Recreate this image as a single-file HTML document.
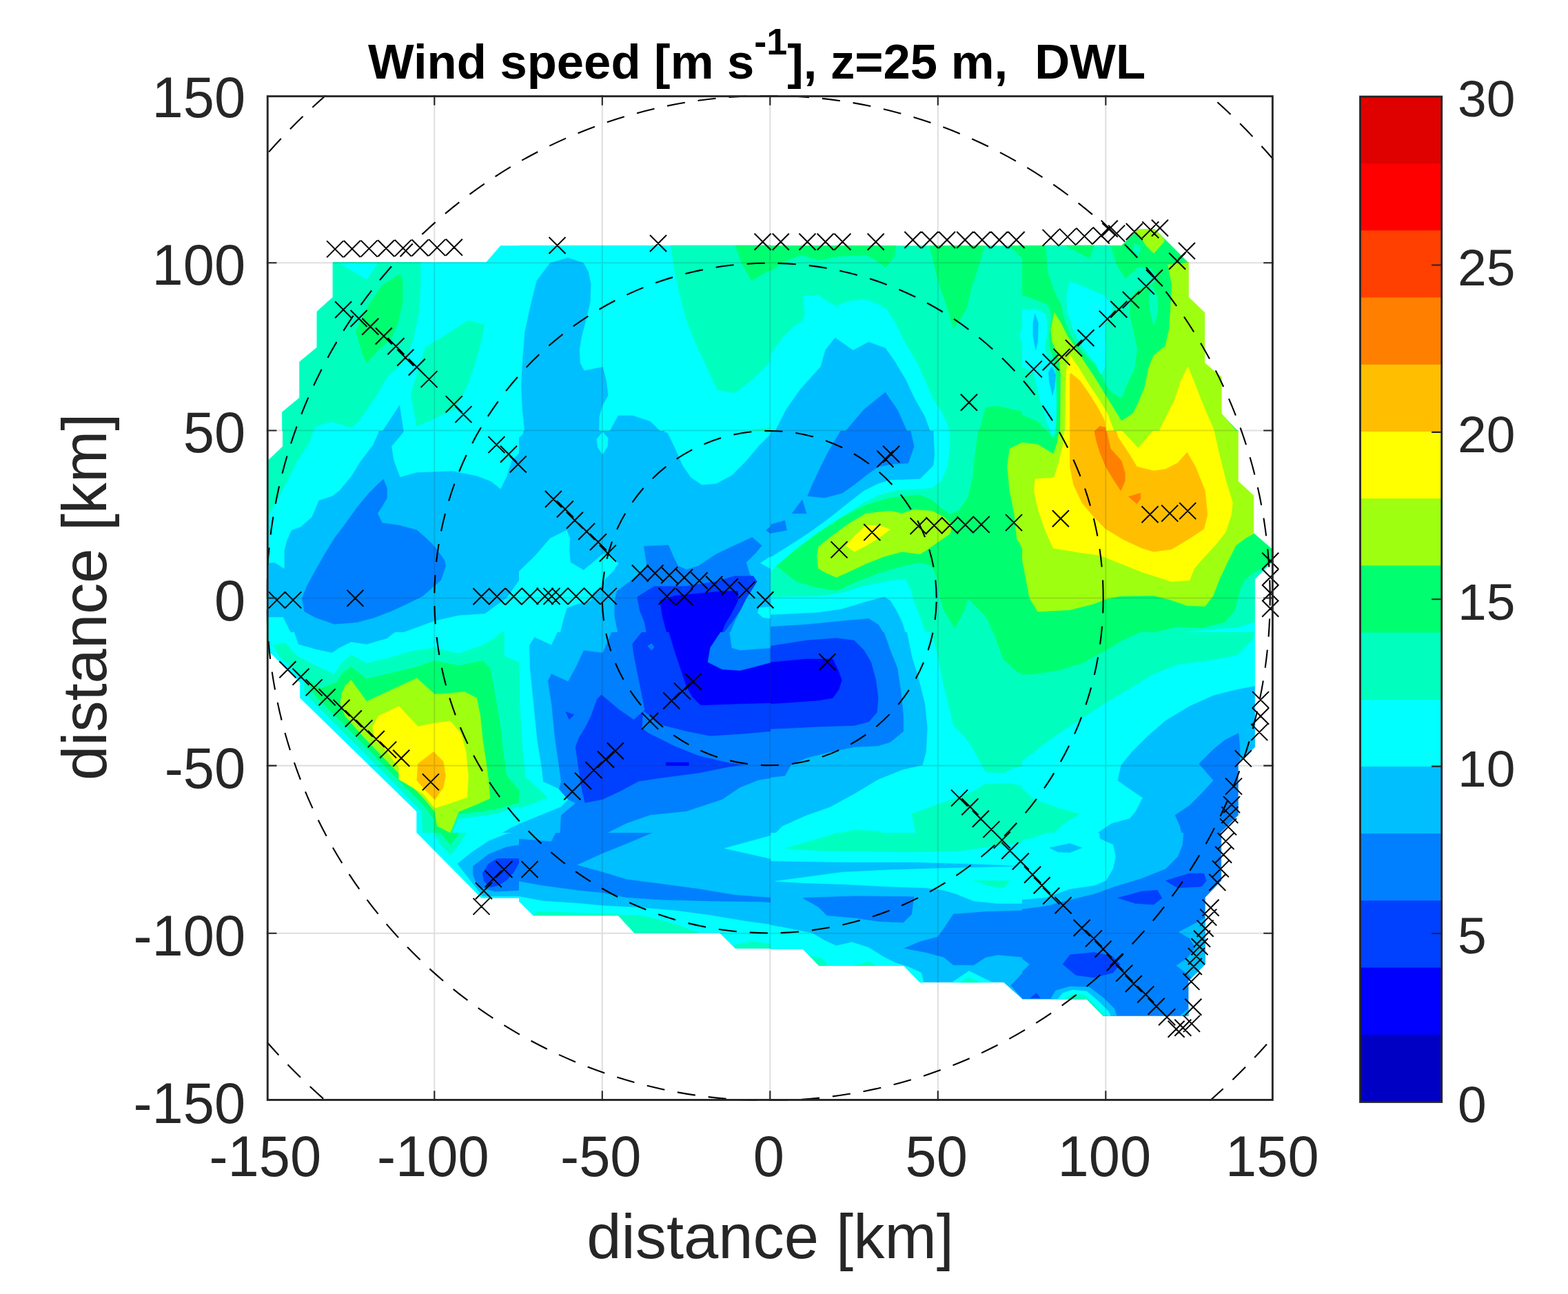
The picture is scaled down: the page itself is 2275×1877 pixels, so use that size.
<!DOCTYPE html>
<html lang="en"><head><meta charset="utf-8"><title>Wind speed</title>
<style>html,body{margin:0;padding:0;background:#fff}svg{display:block}text{font-family:"Liberation Sans",Arial,Helvetica,sans-serif}</style></head>
<body>
<svg xmlns="http://www.w3.org/2000/svg" width="2275" height="1877" viewBox="0 0 2275 1877">
<rect width="2275" height="1877" fill="#fff"/>
<defs><clipPath id="ax"><rect x="386.8" y="138.2" width="1461.0" height="1458.7"/></clipPath></defs>
<g clip-path="url(#ax)" shape-rendering="geometricPrecision">
<defs><clipPath id="c1"><rect x="388.0" y="334.0" width="365.0" height="291.0"/></clipPath><clipPath id="c2"><rect x="388.0" y="625.0" width="365.0" height="292.0"/></clipPath><clipPath id="c3"><rect x="388.0" y="917.0" width="365.0" height="291.0"/></clipPath><clipPath id="c4"><rect x="388.0" y="1208.0" width="365.0" height="291.0"/></clipPath><clipPath id="c5"><rect x="753.0" y="334.0" width="365.0" height="291.0"/></clipPath><clipPath id="c6"><rect x="753.0" y="625.0" width="365.0" height="292.0"/></clipPath><clipPath id="c7"><rect x="753.0" y="917.0" width="365.0" height="291.0"/></clipPath><clipPath id="c8"><rect x="753.0" y="1208.0" width="365.0" height="291.0"/></clipPath><clipPath id="c9"><rect x="1118.0" y="334.0" width="365.0" height="291.0"/></clipPath><clipPath id="c10"><rect x="1118.0" y="625.0" width="365.0" height="292.0"/></clipPath><clipPath id="c11"><rect x="1118.0" y="917.0" width="365.0" height="291.0"/></clipPath><clipPath id="c12"><rect x="1118.0" y="1208.0" width="365.0" height="291.0"/></clipPath><clipPath id="c13"><rect x="1483.0" y="300.0" width="365.0" height="325.0"/></clipPath><clipPath id="c14"><rect x="1483.0" y="625.0" width="365.0" height="292.0"/></clipPath><clipPath id="c15"><rect x="1483.0" y="917.0" width="365.0" height="291.0"/></clipPath><clipPath id="c16"><rect x="1483.0" y="1208.0" width="365.0" height="291.0"/></clipPath></defs>
<g clip-path="url(#c1)">
<path d="M409.7 628.9L409.7 597.7L434.8 576.9L434.8 524.8L460.0 504.0L460.0 452.0L483.1 431.1L483.1 380.5L705.5 380.5L726.3 356.6L755.8 356.6L755.8 628.9Z" fill="#00ffff" stroke="#00ffff" stroke-width="0.6" stroke-linejoin="round"/>
<path d="M409.7 628.9L409.7 597.7L434.8 576.9L434.8 524.8L460.0 504.0L460.0 452.0L483.1 431.1L483.1 380.5L610.1 380.5L610.1 417.3L607.5 455.4L598.8 495.3L587.5 523.1L561.5 547.4L544.1 576.9L519.8 611.6L509.4 620.2L481.7 611.6L457.4 618.5L453.9 628.9Z" fill="#00ffbf" stroke="#00ffbf" stroke-width="0.6" stroke-linejoin="round"/>
<path d="M493.8 382.6L547.6 382.6L532.0 405.1Z" fill="#00ffff" stroke="#00ffff" stroke-width="0.6" stroke-linejoin="round"/>
<path d="M580.6 397.3L584.0 406.9L584.0 438.1L577.1 469.3L568.4 490.1L547.6 509.2L532.0 526.6L525.0 510.9L516.4 479.7L535.5 441.6L554.5 413.8Z" fill="#00ff70" stroke="#00ff70" stroke-width="0.6" stroke-linejoin="round"/>
<path d="M679.4 465.0L702.9 471.0L698.5 493.6L689.9 524.8L681.2 550.8L670.8 575.1L658.6 594.2L630.9 606.4L604.8 618.5L596.2 571.7L617.0 504.0L648.2 484.9Z" fill="#00ffbf" stroke="#00ffbf" stroke-width="0.6" stroke-linejoin="round"/>
<path d="M552.8 628.9L579.7 588.1L585.8 628.9Z" fill="#00bfff" stroke="#00bfff" stroke-width="0.6" stroke-linejoin="round"/>
</g>
<g clip-path="url(#c2)">
<path d="M384.5 621.5L755.8 621.5L755.8 919.9L384.5 919.9Z" fill="#00bfff" stroke="#00bfff" stroke-width="0.6" stroke-linejoin="round"/>
<path d="M455.7 621.5L549.3 621.5L549.3 626.7L540.7 645.8L523.3 668.4L509.4 690.9L492.1 711.7L481.7 719.5L462.6 725.6L457.4 737.8L452.2 749.9L436.6 763.8L422.7 769.0L415.8 784.6L412.3 798.5L412.3 824.5L398.4 815.8L384.5 816.7L384.5 621.5Z" fill="#00ffff" stroke="#00ffff" stroke-width="0.6" stroke-linejoin="round"/>
<path d="M409.7 621.5L455.7 621.5L448.7 642.3L431.4 668.4L414.0 703.1L398.4 732.6L389.7 746.4L384.5 746.4L384.5 621.5Z" fill="#00ffbf" stroke="#00ffbf" stroke-width="0.6" stroke-linejoin="round"/>
<path d="M384.5 621.5L409.7 621.5L409.7 647.6L389.7 666.6L384.5 666.6Z" fill="#ffffff" stroke="#ffffff" stroke-width="0.6" stroke-linejoin="round"/>
<path d="M585.8 621.5L585.8 626.7L568.4 647.6L571.9 668.4L580.6 691.8L604.8 684.9L656.9 683.1L691.6 690.1L712.4 697.9L726.3 709.1L735.0 690.9L741.9 668.4L755.8 654.5L755.8 621.5Z" fill="#00ffff" stroke="#00ffff" stroke-width="0.6" stroke-linejoin="round"/>
<path d="M384.5 895.6L410.6 895.6L422.7 919.9L384.5 919.9Z" fill="#00ffff" stroke="#00ffff" stroke-width="0.6" stroke-linejoin="round"/>
<path d="M578.8 919.9L630.9 900.8L665.6 893.0L703.7 890.4L717.6 880.0L735.0 867.9L755.8 838.4L755.8 919.9Z" fill="#00ffff" stroke="#00ffff" stroke-width="0.6" stroke-linejoin="round"/>
<path d="M556.3 695.3L561.5 708.3L561.5 722.1L554.5 734.3L547.6 744.7L554.5 758.6L578.8 762.0L604.8 769.0L618.7 781.1L630.9 793.3L644.7 812.4L646.5 821.0L639.5 841.8L627.4 852.3L613.5 864.4L592.7 874.8L570.2 885.2L544.1 895.6L518.1 902.6L485.1 905.2L457.4 895.6L441.8 887.0L438.3 867.9L445.2 850.5L457.4 828.0L471.3 803.7L485.1 781.1L500.8 760.3L518.1 736.0L535.5 715.2L547.6 703.1Z" fill="#0080ff" stroke="#0080ff" stroke-width="0.6" stroke-linejoin="round"/>
</g>
<g clip-path="url(#c3)">
<path d="M384.5 913.5L755.8 913.5L755.8 1211.9L384.5 1211.9Z" fill="#00ffff" stroke="#00ffff" stroke-width="0.6" stroke-linejoin="round"/>
<path d="M426.2 913.5L433.1 934.3L457.4 941.3L481.7 946.5L492.1 939.6L509.4 930.9L532.0 934.3L561.5 925.7L577.1 913.5Z" fill="#00bfff" stroke="#00bfff" stroke-width="0.6" stroke-linejoin="round"/>
<path d="M396.7 936.1L414.0 932.6L431.4 951.7L457.4 965.6L485.1 977.7L495.6 962.1L509.4 950.0L532.0 962.1L561.5 955.2L596.2 944.8L630.9 939.6L665.6 948.2L700.3 936.1L717.6 925.7L731.5 913.5L731.5 951.7L755.8 962.1L755.8 1168.5L717.6 1180.7L665.6 1187.6L658.6 1203.2L655.2 1211.9L613.5 1211.9L611.8 1177.2L561.5 1125.2L509.4 1073.1L457.4 1021.1L441.8 1003.7L441.8 986.4L405.3 951.7Z" fill="#00ffbf" stroke="#00ffbf" stroke-width="0.6" stroke-linejoin="round"/>
<path d="M445.2 986.4L466.1 998.5L488.6 989.9L495.6 977.7L509.4 967.3L532.0 984.7L561.5 977.7L604.8 967.3L630.9 958.6L665.6 965.6L700.3 958.6L710.7 969.0L717.6 1003.7L726.3 1055.8L729.8 1090.5L735.0 1125.2L755.8 1149.5L755.8 1163.3L717.6 1173.7L665.6 1180.7L658.6 1194.6L653.4 1211.9L630.9 1211.9L629.1 1187.6L613.5 1166.8L561.5 1114.8L509.4 1061.0L457.4 1008.9Z" fill="#00ff70" stroke="#00ff70" stroke-width="0.6" stroke-linejoin="round"/>
<path d="M495.6 1007.2L500.8 995.1L509.4 986.4L532.0 1017.6L561.5 1003.7L604.8 983.8L630.9 1007.2L674.2 1003.7L691.6 1012.4L696.8 1038.4L700.3 1073.1L705.5 1107.8L708.9 1133.8L710.7 1158.1L691.6 1166.8L665.6 1177.2L658.6 1194.6L653.4 1207.9L634.3 1198.0L630.9 1177.2L613.5 1156.4L570.2 1113.0L526.8 1067.9L500.8 1038.4L493.8 1021.1Z" fill="#9fff10" stroke="#9fff10" stroke-width="0.6" stroke-linejoin="round"/>
<path d="M540.7 1054.0L549.3 1038.4L578.8 1024.6L606.6 1054.0L630.9 1048.8L653.4 1046.2L669.0 1064.5L676.0 1090.5L679.4 1125.2L677.7 1156.4L648.2 1166.8L630.9 1172.0L613.5 1151.2L578.8 1130.4L578.8 1113.0L561.5 1090.5L544.1 1073.1Z" fill="#ffff00" stroke="#ffff00" stroke-width="0.6" stroke-linejoin="round"/>
<path d="M629.1 1090.5L643.0 1104.4L646.5 1125.2L643.0 1142.5L630.9 1159.9L618.7 1147.7L604.8 1132.1L606.6 1107.8Z" fill="#ffbf00" stroke="#ffbf00" stroke-width="0.6" stroke-linejoin="round"/>
<path d="M658.6 1211.9L665.6 1189.4L717.6 1182.4L755.8 1170.3L755.8 1211.9Z" fill="#00ffff" stroke="#00ffff" stroke-width="0.6" stroke-linejoin="round"/>
<path d="M722.8 1211.9L743.6 1199.8L755.8 1194.6L755.8 1211.9Z" fill="#00bfff" stroke="#00bfff" stroke-width="0.6" stroke-linejoin="round"/>
<path d="M384.5 944.8L393.2 948.2L434.8 989.9L434.8 1012.4L604.0 1177.2L604.0 1211.9L384.5 1211.9Z" fill="#ffffff" stroke="#ffffff" stroke-width="0.6" stroke-linejoin="round"/>
</g>
<g clip-path="url(#c4)">
<path d="M601.4 1204.5L698.5 1302.5L755.8 1302.5L755.8 1204.5Z" fill="#00ffff" stroke="#00ffff" stroke-width="0.6" stroke-linejoin="round"/>
<path d="M627.4 1204.5L639.5 1225.3L653.4 1240.1L665.6 1225.3L679.4 1204.5Z" fill="#00ffbf" stroke="#00ffbf" stroke-width="0.6" stroke-linejoin="round"/>
<path d="M636.1 1204.5L653.4 1225.3L669.0 1204.5Z" fill="#00ff70" stroke="#00ff70" stroke-width="0.6" stroke-linejoin="round"/>
<path d="M663.8 1253.1L682.9 1237.5L708.9 1220.1L735.0 1209.7L755.8 1206.3L755.8 1299.9L700.3 1299.9L682.9 1277.4Z" fill="#00bfff" stroke="#00bfff" stroke-width="0.6" stroke-linejoin="round"/>
<path d="M686.4 1256.6L708.9 1239.2L735.0 1228.8L755.8 1225.3L755.8 1291.3L717.6 1293.0L693.3 1286.1L686.4 1268.7Z" fill="#0080ff" stroke="#0080ff" stroke-width="0.6" stroke-linejoin="round"/>
<path d="M700.3 1266.3L708.9 1253.1L721.1 1245.5L752.3 1245.5L754.0 1249.6L745.4 1265.2L735.0 1276.7L722.8 1284.3L710.7 1287.1L702.0 1277.4Z" fill="#0040ff" stroke="#0040ff" stroke-width="0.6" stroke-linejoin="round"/>
</g>
<g clip-path="url(#c5)">
<path d="M749.5 356.2L1120.8 356.2L1120.8 628.9L749.5 628.9Z" fill="#00ffff" stroke="#00ffff" stroke-width="0.6" stroke-linejoin="round"/>
<path d="M824.1 373.9L846.7 381.7L853.6 394.7L857.1 412.1L856.2 438.1L850.1 464.1L843.2 490.1L840.6 507.5L841.5 526.6L847.5 537.8L860.6 535.2L874.4 532.6L879.6 552.6L882.2 573.4L874.4 587.3L869.2 604.6L868.9 628.9L761.7 628.9L758.2 594.2L756.5 559.5L758.2 524.8L761.7 481.5L770.3 441.6L779.0 406.9L798.1 381.7Z" fill="#00bfff" stroke="#00bfff" stroke-width="0.6" stroke-linejoin="round"/>
<path d="M883.1 628.9L897.0 602.9L917.8 602.9L943.8 611.6L961.2 628.9Z" fill="#00bfff" stroke="#00bfff" stroke-width="0.6" stroke-linejoin="round"/>
<path d="M973.3 356.2L978.5 391.2L985.5 424.2L995.9 464.1L1009.7 498.8L1023.6 528.3L1034.0 550.8L1041.0 565.6L1065.3 569.9L1082.6 557.8L1100.0 542.2L1120.8 521.4L1120.8 356.2Z" fill="#00ffbf" stroke="#00ffbf" stroke-width="0.6" stroke-linejoin="round"/>
<path d="M1067.0 356.2L1075.7 380.8L1090.4 406.9L1120.8 389.5L1120.8 356.2Z" fill="#00ff70" stroke="#00ff70" stroke-width="0.6" stroke-linejoin="round"/>
<path d="M1070.5 628.9L1100.0 622.3L1120.8 620.2L1120.8 628.9Z" fill="#00ffbf" stroke="#00ffbf" stroke-width="0.6" stroke-linejoin="round"/>
</g>
<g clip-path="url(#c6)">
<path d="M749.5 621.5L1120.8 621.5L1120.8 919.9L749.5 919.9Z" fill="#00bfff" stroke="#00bfff" stroke-width="0.6" stroke-linejoin="round"/>
<path d="M964.6 621.5L1120.8 621.5L1120.8 627.1L964.6 627.1Z" fill="#00ffff" stroke="#00ffff" stroke-width="0.6" stroke-linejoin="round"/>
<path d="M749.5 621.5L759.9 621.5L758.2 630.2L749.5 637.1Z" fill="#00ffff" stroke="#00ffff" stroke-width="0.6" stroke-linejoin="round"/>
<path d="M874.4 626.7L882.2 635.4L881.4 647.6L874.4 658.8L867.5 649.3L865.8 637.1Z" fill="#00ffff" stroke="#00ffff" stroke-width="0.6" stroke-linejoin="round"/>
<path d="M968.1 621.5L968.1 626.7L978.5 647.6L990.7 675.3L1002.8 692.7L1018.4 703.1L1039.2 701.3L1061.8 689.2L1082.6 668.4L1100.0 647.6L1120.8 626.7L1120.8 621.5Z" fill="#00ffff" stroke="#00ffff" stroke-width="0.6" stroke-linejoin="round"/>
<path d="M749.5 832.3L775.6 807.2L798.1 781.1L822.4 769.0L826.7 781.1L825.9 798.5L827.6 815.8L846.7 827.1L860.6 815.8L874.4 803.7L888.3 807.2L897.0 817.6L888.3 829.7L877.9 840.1L872.7 850.5L860.6 859.2L857.1 871.3L836.3 876.5L822.4 881.7L817.2 899.1L812.0 919.9L749.5 919.9Z" fill="#00ffff" stroke="#00ffff" stroke-width="0.6" stroke-linejoin="round"/>
<path d="M934.3 792.4L969.8 790.7L976.8 807.2L983.7 821.0L995.9 826.2L1013.2 821.0L1039.2 803.7L1065.3 791.5L1091.3 779.4L1105.2 791.5L1096.5 801.9L1082.6 815.8L1087.8 833.2L1098.2 843.6L1082.6 867.9L1073.9 885.2L1065.3 902.6L1058.3 919.9L897.0 919.9L891.8 893.9L891.8 871.3L895.3 857.5L909.1 847.1L926.5 833.2L938.6 821.0L936.9 808.9Z" fill="#0080ff" stroke="#0080ff" stroke-width="0.6" stroke-linejoin="round"/>
<path d="M1120.8 762.0L1111.2 769.0L1120.8 775.9Z" fill="#0080ff" stroke="#0080ff" stroke-width="0.6" stroke-linejoin="round"/>
<path d="M924.7 866.1L949.0 850.5L995.9 850.5L1039.2 843.6L1065.3 835.8L1093.0 835.8L1098.2 843.6L1082.6 867.9L1073.9 885.2L1061.8 902.6L1047.9 919.9L938.6 919.9L935.2 902.6L928.2 885.2Z" fill="#0040ff" stroke="#0040ff" stroke-width="0.6" stroke-linejoin="round"/>
<path d="M957.7 871.3L978.5 864.4L1013.2 860.9L1047.9 857.5L1070.5 857.5L1070.5 871.3L1061.8 888.7L1051.4 906.0L1046.2 919.9L968.1 919.9L961.2 893.9Z" fill="#0000ff" stroke="#0000ff" stroke-width="0.6" stroke-linejoin="round"/>
<path d="M1120.8 805.4L1103.4 816.7L1120.8 826.2Z" fill="#00ffff" stroke="#00ffff" stroke-width="0.6" stroke-linejoin="round"/>
<path d="M1120.8 880.0L1101.7 881.7L1099.1 888.7L1106.9 895.6L1120.8 897.4Z" fill="#00ffff" stroke="#00ffff" stroke-width="0.6" stroke-linejoin="round"/>
</g>
<g clip-path="url(#c7)">
<path d="M749.5 913.5L1120.8 913.5L1120.8 1211.9L749.5 1211.9Z" fill="#0040ff" stroke="#0040ff" stroke-width="0.6" stroke-linejoin="round"/>
<path d="M933.4 913.5L916.9 934.3L919.5 951.7L926.5 986.4L931.7 1012.4L935.2 1029.8L919.5 1043.6L897.0 1028.0L872.7 1007.2L865.8 1014.1L857.1 1038.4L848.4 1055.8L839.7 1069.7L834.5 1083.5L838.0 1107.8L843.2 1142.5L848.4 1165.1L874.4 1159.9L900.5 1147.7L926.5 1133.8L961.2 1128.6L1013.2 1121.7L1056.6 1113.0L1082.6 1109.6L1120.8 1109.6L1120.8 1211.9L749.5 1211.9L749.5 913.5Z" fill="#0080ff" stroke="#0080ff" stroke-width="0.6" stroke-linejoin="round"/>
<path d="M933.4 1031.5L961.2 1052.3L995.9 1061.0L1030.6 1067.9L1082.6 1064.5L1120.8 1061.0L1120.8 1109.6L1082.6 1109.6L1056.6 1106.1L1013.2 1095.7L978.5 1081.8L940.4 1062.7L931.7 1055.8Z" fill="#0080ff" stroke="#0080ff" stroke-width="0.6" stroke-linejoin="round"/>
<path d="M969.8 913.5L978.5 943.0L987.2 969.0L995.9 995.1L1004.5 1010.7L1016.7 1022.8L1065.3 1021.1L1120.8 1019.4L1120.8 913.5Z" fill="#0000ff" stroke="#0000ff" stroke-width="0.6" stroke-linejoin="round"/>
<path d="M1047.9 913.5L1030.6 939.6L1027.1 960.4L1047.9 970.8L1073.9 972.5L1120.8 960.4L1120.8 913.5Z" fill="#0080ff" stroke="#0080ff" stroke-width="0.6" stroke-linejoin="round"/>
<path d="M939.5 937.0L945.6 933.5L949.0 938.7L945.6 943.0Z" fill="#0080ff" stroke="#0080ff" stroke-width="0.6" stroke-linejoin="round"/>
<path d="M820.7 1032.4L832.8 1036.7L825.9 1043.6Z" fill="#0040ff" stroke="#0040ff" stroke-width="0.6" stroke-linejoin="round"/>
<path d="M966.4 1106.1L999.3 1106.1L999.3 1110.4L966.4 1110.4Z" fill="#0000ff" stroke="#0000ff" stroke-width="0.6" stroke-linejoin="round"/>
<path d="M810.2 913.5L888.3 913.5L874.4 946.5L846.7 943.0L836.3 965.6L824.1 988.1L799.8 976.9L794.6 988.1L799.8 1021.1L805.0 1073.1L810.2 1107.8L813.7 1133.8L810.2 1146.0L749.5 1146.0L749.5 913.5Z" fill="#00bfff" stroke="#00bfff" stroke-width="0.6" stroke-linejoin="round"/>
<path d="M749.5 1177.2L787.7 1180.7L813.7 1170.3L824.1 1159.9L834.5 1165.1L813.7 1182.4L812.0 1211.9L749.5 1211.9Z" fill="#00bfff" stroke="#00bfff" stroke-width="0.6" stroke-linejoin="round"/>
<path d="M874.4 1211.9L909.1 1194.6L943.8 1182.4L995.9 1177.2L1047.9 1159.9L1073.9 1142.5L1100.0 1132.1L1120.8 1128.6L1120.8 1211.9Z" fill="#00bfff" stroke="#00bfff" stroke-width="0.6" stroke-linejoin="round"/>
<path d="M1058.3 913.5L1061.8 939.6L1073.9 943.0L1120.8 939.6L1120.8 913.5Z" fill="#00bfff" stroke="#00bfff" stroke-width="0.6" stroke-linejoin="round"/>
<path d="M749.5 913.5L810.2 913.5L799.8 935.2L775.6 923.9L767.7 936.1L768.6 969.0L773.8 1021.1L779.0 1073.1L786.0 1116.5L787.7 1133.8L810.2 1144.3L824.1 1159.9L813.7 1170.3L787.7 1180.7L749.5 1196.3Z" fill="#00ffff" stroke="#00ffff" stroke-width="0.6" stroke-linejoin="round"/>
<path d="M749.5 955.2L753.0 957.6L754.0 1023.5L758.2 1090.5L762.7 1127.6L794.6 1156.4L770.3 1166.8L749.5 1173.7Z" fill="#00ffbf" stroke="#00ffbf" stroke-width="0.6" stroke-linejoin="round"/>
</g>
<g clip-path="url(#c8)">
<path d="M749.5 1204.5L1120.8 1204.5L1120.8 1375.4L1067.0 1375.4L1044.4 1352.9L920.4 1352.9L897.0 1327.7L773.8 1327.7L749.5 1303.4Z" fill="#00bfff" stroke="#00bfff" stroke-width="0.6" stroke-linejoin="round"/>
<path d="M749.5 1216.7L799.8 1221.0L808.5 1204.5L954.2 1204.5L909.1 1223.6L874.4 1237.5L836.3 1254.8L874.4 1265.2L909.1 1275.7L961.2 1282.6L1013.2 1289.5L1065.3 1298.2L1120.8 1302.5L1120.8 1308.6L1100.0 1307.8L1030.6 1306.9L961.2 1305.1L909.1 1301.7L874.4 1294.7L839.7 1291.3L787.7 1284.3L749.5 1277.4Z" fill="#0080ff" stroke="#0080ff" stroke-width="0.6" stroke-linejoin="round"/>
<path d="M1051.4 1230.6L1082.6 1221.9L1120.8 1211.5L1120.8 1246.2L1082.6 1237.5Z" fill="#00ffff" stroke="#00ffff" stroke-width="0.6" stroke-linejoin="round"/>
<path d="M749.5 1299.9L787.7 1306.9L839.7 1310.4L874.4 1313.8L926.5 1316.4L978.5 1320.8L1030.6 1327.7L1082.6 1336.4L1120.8 1341.6L1120.8 1375.4L1067.0 1375.4L1044.4 1352.9L920.4 1352.9L897.0 1327.7L773.8 1327.7L749.5 1303.4Z" fill="#00ffff" stroke="#00ffff" stroke-width="0.6" stroke-linejoin="round"/>
<path d="M773.8 1327.7L779.0 1322.5L897.0 1326.0L897.0 1327.7Z" fill="#00ffbf" stroke="#00ffbf" stroke-width="0.6" stroke-linejoin="round"/>
<path d="M897.0 1327.7L920.4 1352.9L1013.2 1352.9L987.2 1343.3L952.5 1332.9L926.5 1327.7Z" fill="#00ffbf" stroke="#00ffbf" stroke-width="0.6" stroke-linejoin="round"/>
<path d="M1067.0 1375.4L1120.8 1375.4L1120.8 1369.3L1091.3 1365.9L1065.3 1371.1Z" fill="#00ffbf" stroke="#00ffbf" stroke-width="0.6" stroke-linejoin="round"/>
</g>
<g clip-path="url(#c9)">
<path d="M1114.5 356.6L1485.8 356.6L1485.8 628.9L1114.5 628.9Z" fill="#00ffbf" stroke="#00ffbf" stroke-width="0.6" stroke-linejoin="round"/>
<path d="M1114.5 356.6L1300.2 356.6L1296.7 373.9L1284.5 387.8L1270.7 377.4L1256.8 369.6L1215.1 371.8L1187.4 377.4L1163.1 369.6L1135.3 380.0L1118.0 393.9L1114.5 393.9Z" fill="#00ff70" stroke="#00ff70" stroke-width="0.6" stroke-linejoin="round"/>
<path d="M1348.7 356.6L1355.7 386.0L1364.3 417.3L1374.7 446.8L1383.4 476.3L1395.6 458.9L1402.5 446.8L1409.4 417.3L1419.9 386.0L1428.5 356.6Z" fill="#00ff70" stroke="#00ff70" stroke-width="0.6" stroke-linejoin="round"/>
<path d="M1465.0 356.6L1485.8 377.4L1485.8 356.6Z" fill="#00ff70" stroke="#00ff70" stroke-width="0.6" stroke-linejoin="round"/>
<path d="M1419.9 628.9L1430.3 590.7L1447.6 589.0L1485.8 597.7L1485.8 628.9Z" fill="#00ff70" stroke="#00ff70" stroke-width="0.6" stroke-linejoin="round"/>
<path d="M1114.5 514.4L1118.0 514.4L1135.3 490.1L1152.7 472.8L1164.8 465.8L1168.3 455.4L1165.7 429.4L1187.4 428.5L1201.3 438.1L1213.4 444.2L1230.8 437.2L1253.3 434.3L1270.7 439.8L1286.3 448.5L1300.2 471.0L1314.0 498.8L1329.6 524.8L1341.8 550.8L1352.2 576.9L1364.3 594.2L1373.0 611.6L1378.2 628.9L1114.5 628.9Z" fill="#00ffff" stroke="#00ffff" stroke-width="0.6" stroke-linejoin="round"/>
<path d="M1485.8 471.0L1479.7 483.2L1479.7 490.1L1485.8 500.5Z" fill="#00ffff" stroke="#00ffff" stroke-width="0.6" stroke-linejoin="round"/>
<path d="M1123.2 628.9L1140.6 594.2L1161.4 564.7L1190.9 531.8L1197.8 507.5L1211.7 490.1L1237.7 508.3L1260.3 496.2L1284.5 504.9L1298.4 524.8L1314.0 550.8L1326.2 576.9L1341.8 604.6L1350.5 628.9Z" fill="#00bfff" stroke="#00bfff" stroke-width="0.6" stroke-linejoin="round"/>
<path d="M1223.8 628.9L1253.3 594.2L1284.5 569.1L1301.9 594.2L1317.5 628.9Z" fill="#0080ff" stroke="#0080ff" stroke-width="0.6" stroke-linejoin="round"/>
</g>
<g clip-path="url(#c10)">
<path d="M1114.5 621.5L1485.8 621.5L1485.8 919.9L1114.5 919.9Z" fill="#00ffff" stroke="#00ffff" stroke-width="0.6" stroke-linejoin="round"/>
<path d="M1114.5 621.5L1353.9 621.5L1355.7 659.7L1353.9 675.3L1334.8 694.4L1291.5 696.1L1274.1 701.3L1253.3 711.7L1230.8 729.1L1204.7 749.9L1178.7 769.0L1152.7 786.3L1118.0 808.0L1114.5 808.9Z" fill="#00bfff" stroke="#00bfff" stroke-width="0.6" stroke-linejoin="round"/>
<path d="M1222.1 621.5L1320.1 621.5L1326.2 647.6L1317.5 671.8L1291.5 673.6L1274.1 677.0L1256.8 689.2L1239.4 703.1L1222.1 715.2L1196.1 722.1L1171.8 719.5L1178.7 703.1L1190.9 677.0L1201.3 656.2L1213.4 635.4Z" fill="#0080ff" stroke="#0080ff" stroke-width="0.6" stroke-linejoin="round"/>
<path d="M1164.0 724.8L1170.0 744.7L1149.2 744.7Z" fill="#0080ff" stroke="#0080ff" stroke-width="0.6" stroke-linejoin="round"/>
<path d="M1114.5 762.0L1138.8 755.1L1141.4 769.0L1114.5 774.2Z" fill="#0080ff" stroke="#0080ff" stroke-width="0.6" stroke-linejoin="round"/>
<path d="M1378.2 621.5L1378.2 651.0L1374.7 677.0L1366.1 697.9L1352.2 708.3L1326.2 710.0L1300.2 711.7L1274.1 718.7L1248.1 732.6L1222.1 749.9L1196.1 769.0L1170.0 788.1L1144.0 807.2L1126.7 821.0L1114.5 833.2L1114.5 865.3L1187.4 864.4L1222.1 859.2L1256.8 848.8L1291.5 841.8L1314.0 840.1L1321.0 854.0L1326.2 871.3L1334.8 893.9L1343.5 919.9L1485.8 919.9L1485.8 621.5Z" fill="#00ffbf" stroke="#00ffbf" stroke-width="0.6" stroke-linejoin="round"/>
<path d="M1126.7 821.0L1152.7 798.5L1187.4 772.5L1222.1 749.9L1256.8 732.6L1291.5 722.1L1317.5 719.5L1334.8 717.8L1352.2 725.6L1364.3 736.0L1378.2 746.4L1392.1 739.5L1404.2 722.1L1411.2 694.4L1414.6 659.7L1419.9 621.5L1485.8 621.5L1485.8 919.9L1442.4 919.9L1430.3 893.9L1404.2 867.9L1399.0 885.2L1385.2 911.2L1369.5 885.2L1364.3 867.9L1360.9 841.8L1352.2 821.0L1334.8 815.8L1308.8 821.0L1274.1 831.4L1239.4 845.3L1213.4 856.6L1178.7 850.5L1154.4 842.7Z" fill="#00ff70" stroke="#00ff70" stroke-width="0.6" stroke-linejoin="round"/>
<path d="M1187.4 793.3L1204.7 779.4L1230.8 760.3L1256.8 744.7L1291.5 741.2L1308.8 744.7L1326.2 739.5L1352.2 741.2L1369.5 749.9L1381.7 762.0L1378.2 774.2L1360.9 786.3L1343.5 798.5L1334.8 803.7L1308.8 800.2L1282.8 807.2L1256.8 817.6L1230.8 829.7L1213.4 837.5L1196.1 829.7L1187.4 824.5L1185.7 807.2Z" fill="#9fff10" stroke="#9fff10" stroke-width="0.6" stroke-linejoin="round"/>
<path d="M1227.3 791.5L1239.4 777.7L1256.8 762.0L1274.1 762.0L1291.5 768.1L1274.1 781.1L1256.8 791.5L1239.4 800.2Z" fill="#ffff00" stroke="#ffff00" stroke-width="0.6" stroke-linejoin="round"/>
<path d="M1485.8 640.6L1465.0 651.0L1461.5 677.0L1465.0 711.7L1471.9 746.4L1475.4 781.1L1485.8 800.2Z" fill="#9fff10" stroke="#9fff10" stroke-width="0.6" stroke-linejoin="round"/>
<path d="M1114.5 892.2L1152.7 890.4L1187.4 888.7L1222.1 883.5L1256.8 873.1L1282.8 866.1L1291.5 871.3L1300.2 885.2L1308.8 902.6L1314.0 919.9L1114.5 919.9Z" fill="#00bfff" stroke="#00bfff" stroke-width="0.6" stroke-linejoin="round"/>
<path d="M1114.5 909.5L1170.0 906.0L1222.1 900.8L1260.3 897.4L1274.1 906.0L1282.8 919.9L1114.5 919.9Z" fill="#0080ff" stroke="#0080ff" stroke-width="0.6" stroke-linejoin="round"/>
</g>
<g clip-path="url(#c11)">
<path d="M1114.5 913.5L1485.8 913.5L1485.8 1211.9L1114.5 1211.9Z" fill="#00ffff" stroke="#00ffff" stroke-width="0.6" stroke-linejoin="round"/>
<path d="M1114.5 913.5L1314.9 913.5L1322.7 951.7L1333.1 986.4L1341.8 1021.1L1345.3 1055.8L1343.5 1090.5L1338.3 1109.6L1308.8 1116.5L1274.1 1130.4L1239.4 1151.2L1204.7 1170.3L1170.0 1182.4L1135.3 1198.0L1121.5 1211.9L1114.5 1211.9Z" fill="#00bfff" stroke="#00bfff" stroke-width="0.6" stroke-linejoin="round"/>
<path d="M1114.5 913.5L1281.1 913.5L1291.5 943.0L1301.9 969.0L1307.1 1003.7L1310.6 1038.4L1310.6 1061.0L1291.5 1076.6L1274.1 1081.8L1239.4 1083.5L1204.7 1090.5L1170.0 1099.2L1147.5 1109.6L1138.8 1125.2L1114.5 1127.8Z" fill="#0080ff" stroke="#0080ff" stroke-width="0.6" stroke-linejoin="round"/>
<path d="M1114.5 937.8L1170.0 929.1L1213.4 925.7L1239.4 929.1L1253.3 943.0L1263.7 960.4L1270.7 986.4L1274.1 1012.4L1272.4 1033.2L1260.3 1047.1L1239.4 1052.3L1187.4 1054.0L1152.7 1055.8L1114.5 1057.5Z" fill="#0040ff" stroke="#0040ff" stroke-width="0.6" stroke-linejoin="round"/>
<path d="M1114.5 961.2L1170.0 956.0L1208.2 956.0L1216.9 974.2L1221.2 986.4L1216.9 1000.3L1208.2 1012.4L1187.4 1015.9L1152.7 1018.5L1114.5 1021.1Z" fill="#0000ff" stroke="#0000ff" stroke-width="0.6" stroke-linejoin="round"/>
<path d="M1350.5 913.5L1360.9 951.7L1369.5 995.1L1378.2 1029.8L1383.4 1052.3L1399.0 1067.9L1409.4 1081.8L1421.6 1104.4L1430.3 1120.0L1456.3 1120.8L1471.9 1113.0L1485.8 1111.3L1485.8 913.5Z" fill="#00ffbf" stroke="#00ffbf" stroke-width="0.6" stroke-linejoin="round"/>
<path d="M1440.7 913.5L1447.6 934.3L1456.3 956.9L1475.4 974.2L1485.8 977.7L1485.8 913.5Z" fill="#00ff70" stroke="#00ff70" stroke-width="0.6" stroke-linejoin="round"/>
<path d="M1322.7 1180.7L1360.9 1166.8L1395.6 1154.7L1412.9 1147.7L1430.3 1137.3L1465.0 1136.5L1485.8 1140.8L1485.8 1211.9L1328.8 1211.9L1326.2 1194.6Z" fill="#00ffbf" stroke="#00ffbf" stroke-width="0.6" stroke-linejoin="round"/>
<path d="M1204.7 1211.9L1239.4 1204.1L1274.1 1205.8L1291.5 1211.9Z" fill="#00ffbf" stroke="#00ffbf" stroke-width="0.6" stroke-linejoin="round"/>
</g>
<g clip-path="url(#c12)">
<path d="M1114.5 1204.5L1485.8 1204.5L1485.8 1450.9L1456.3 1424.8L1334.8 1424.8L1311.4 1400.6L1188.3 1400.6L1164.8 1376.3L1114.5 1376.3Z" fill="#00bfff" stroke="#00bfff" stroke-width="0.6" stroke-linejoin="round"/>
<path d="M1114.5 1204.5L1485.8 1204.5L1485.8 1256.6L1456.3 1254.8L1412.9 1253.1L1326.2 1250.5L1222.1 1250.5L1114.5 1248.8Z" fill="#00ffff" stroke="#00ffff" stroke-width="0.6" stroke-linejoin="round"/>
<path d="M1138.8 1230.6L1170.0 1221.9L1204.7 1211.5L1222.1 1204.5L1485.8 1204.5L1485.8 1221.9L1465.0 1223.6L1430.3 1228.8L1395.6 1234.0L1326.2 1235.8L1256.8 1234.9L1187.4 1234.0Z" fill="#00ffbf" stroke="#00ffbf" stroke-width="0.6" stroke-linejoin="round"/>
<path d="M1124.9 1278.3L1170.0 1272.2L1222.1 1265.2L1291.5 1261.8L1378.2 1259.2L1456.3 1257.4L1485.8 1256.6L1485.8 1310.4L1447.6 1310.4L1412.9 1306.9L1386.9 1296.5L1369.5 1291.3L1343.5 1287.8L1291.5 1286.1L1222.1 1282.6L1170.0 1280.9Z" fill="#00ffff" stroke="#00ffff" stroke-width="0.6" stroke-linejoin="round"/>
<path d="M1412.9 1277.4L1465.0 1277.4L1456.3 1287.8L1438.9 1286.1Z" fill="#00ffbf" stroke="#00ffbf" stroke-width="0.6" stroke-linejoin="round"/>
<path d="M1164.8 1302.5L1239.4 1299.9L1326.2 1300.8L1324.4 1312.1L1322.7 1326.0L1310.6 1338.1L1274.1 1336.4L1239.4 1331.2L1199.5 1327.7L1187.4 1315.6Z" fill="#0080ff" stroke="#0080ff" stroke-width="0.6" stroke-linejoin="round"/>
<path d="M1383.4 1326.0L1430.3 1322.5L1485.8 1320.8L1485.8 1388.4L1447.6 1384.9L1430.3 1388.4L1412.9 1399.7L1383.4 1399.7L1369.5 1388.4L1343.5 1381.5L1312.3 1375.4L1334.8 1365.9L1360.9 1358.9L1369.5 1346.8Z" fill="#0080ff" stroke="#0080ff" stroke-width="0.6" stroke-linejoin="round"/>
<path d="M1485.8 1409.2L1466.7 1429.2L1485.8 1450.9Z" fill="#0080ff" stroke="#0080ff" stroke-width="0.6" stroke-linejoin="round"/>
<path d="M1114.5 1341.6L1135.3 1345.0L1178.7 1353.7L1196.1 1364.1L1213.4 1371.9L1236.0 1366.7L1260.3 1374.5L1282.8 1388.4L1300.2 1397.1L1311.4 1400.6L1188.3 1400.6L1164.8 1376.3L1114.5 1376.3Z" fill="#00ffff" stroke="#00ffff" stroke-width="0.6" stroke-linejoin="round"/>
<path d="M1406.0 1408.4L1438.9 1424.8L1381.7 1424.8Z" fill="#00ffff" stroke="#00ffff" stroke-width="0.6" stroke-linejoin="round"/>
<path d="M1406.0 1417.9L1421.6 1424.8L1393.8 1424.8Z" fill="#00ffbf" stroke="#00ffbf" stroke-width="0.6" stroke-linejoin="round"/>
<path d="M1311.4 1400.6L1334.8 1424.8L1340.1 1424.8L1336.6 1411.0L1317.5 1402.3Z" fill="#00ffff" stroke="#00ffff" stroke-width="0.6" stroke-linejoin="round"/>
<path d="M1175.2 1386.7L1192.6 1390.2L1201.3 1400.6L1188.3 1400.6Z" fill="#00ffbf" stroke="#00ffbf" stroke-width="0.6" stroke-linejoin="round"/>
<path d="M1239.4 1400.6L1260.3 1394.5L1270.7 1400.6Z" fill="#00ffbf" stroke="#00ffbf" stroke-width="0.6" stroke-linejoin="round"/>
</g>
<g clip-path="url(#c13)">
<path d="M1479.3 356.2L1627.2 356.2L1651.5 332.8L1675.8 332.8L1723.6 380.5L1723.6 431.0L1747.0 453.5L1747.0 526.5L1771.3 547.1L1771.3 599.5L1795.6 625.0L1801.3 629.5L1479.3 629.5Z" fill="#00ff70" stroke="#00ff70" stroke-width="0.6" stroke-linejoin="round"/>
<path d="M1517.6 356.2L1611.2 356.2L1619.7 384.2L1632.8 404.8L1651.5 388.0L1670.2 389.9L1679.6 404.8L1670.2 412.3L1651.5 419.8L1640.3 431.0L1638.4 455.4L1644.0 479.7L1649.6 505.9L1645.9 534.0L1634.6 558.4L1627.2 577.1L1614.0 569.6L1604.7 558.4L1595.3 534.0L1580.4 520.9L1567.2 505.9L1554.1 487.2L1544.8 464.7L1539.2 440.4L1529.8 421.7L1520.4 393.6Z" fill="#00ffbf" stroke="#00ffbf" stroke-width="0.6" stroke-linejoin="round"/>
<path d="M1544.8 356.2L1587.8 356.2L1580.4 374.9L1563.5 365.5Z" fill="#00ff70" stroke="#00ff70" stroke-width="0.6" stroke-linejoin="round"/>
<path d="M1552.3 408.6L1572.9 416.1L1602.8 429.2L1614.0 442.3L1612.2 455.4L1604.7 468.5L1602.8 487.2L1604.7 505.9L1602.8 534.0L1597.2 543.4L1587.8 524.7L1572.9 505.9L1557.9 479.7L1548.5 449.8L1547.6 427.3Z" fill="#00ffff" stroke="#00ffff" stroke-width="0.6" stroke-linejoin="round"/>
<path d="M1479.3 427.3L1501.7 434.8L1520.4 442.3L1525.1 459.1L1521.4 487.2L1523.3 505.9L1529.8 524.7L1532.6 543.4L1533.5 580.8L1532.0 618.3L1530.7 632.3L1479.3 632.3Z" fill="#00ffbf" stroke="#00ffbf" stroke-width="0.6" stroke-linejoin="round"/>
<path d="M1479.3 449.8L1501.7 447.9L1517.6 455.4L1519.5 477.9L1515.8 505.9L1523.3 524.7L1529.8 535.9L1531.3 562.1L1532.4 599.5L1530.9 623.9L1527.9 632.3L1525.7 626.9L1519.5 613.2L1513.1 592.2L1507.0 571.5L1499.7 540.0L1483.0 532.1L1479.3 530.3Z" fill="#00ffff" stroke="#00ffff" stroke-width="0.6" stroke-linejoin="round"/>
<path d="M1479.3 599.5L1483.9 602.7L1504.9 611.1L1515.2 621.6L1521.6 626.9L1527.9 632.3L1479.3 632.3Z" fill="#00ff70" stroke="#00ff70" stroke-width="0.6" stroke-linejoin="round"/>
<path d="M1501.7 455.4L1506.4 468.5L1505.5 496.6L1502.7 507.8L1498.9 487.2L1498.9 468.5Z" fill="#00bfff" stroke="#00bfff" stroke-width="0.6" stroke-linejoin="round"/>
<path d="M1526.1 532.1L1531.7 543.4L1529.8 562.1L1527.0 573.3L1522.3 552.7L1521.4 539.6Z" fill="#00bfff" stroke="#00bfff" stroke-width="0.6" stroke-linejoin="round"/>
<path d="M1529.8 453.5L1539.2 468.5L1548.5 487.2L1561.6 505.9L1572.9 524.7L1587.8 547.1L1602.8 571.5L1617.8 595.8L1627.2 610.8L1644.0 599.5L1651.5 584.6L1660.9 562.1L1666.5 534.0L1674.0 515.3L1690.8 502.2L1696.4 477.9L1698.3 449.8L1700.2 412.3L1694.5 384.2L1724.5 380.5L1724.5 431.0L1747.9 453.5L1747.9 526.5L1772.2 547.1L1772.2 599.5L1797.5 629.5L1538.2 632.3L1538.8 580.8L1539.2 543.4L1537.3 524.7L1533.5 509.7L1527.0 496.6L1524.6 477.9Z" fill="#9fff10" stroke="#9fff10" stroke-width="0.6" stroke-linejoin="round"/>
<path d="M1647.7 336.5L1651.5 332.8L1675.8 332.8L1688.9 346.8L1688.9 350.5L1674.0 367.4L1662.7 356.2L1657.1 346.8Z" fill="#9fff10" stroke="#9fff10" stroke-width="0.6" stroke-linejoin="round"/>
<path d="M1645.9 354.3L1655.2 356.2L1651.5 371.1L1644.0 363.7Z" fill="#00ffbf" stroke="#00ffbf" stroke-width="0.6" stroke-linejoin="round"/>
<path d="M1670.2 412.3L1679.6 431.0L1679.6 453.5L1674.0 472.2L1668.3 449.8L1667.4 427.3Z" fill="#00ffbf" stroke="#00ffbf" stroke-width="0.6" stroke-linejoin="round"/>
<path d="M1552.3 515.3L1565.4 534.0L1580.4 558.4L1595.3 580.8L1606.6 599.5L1617.8 629.5L1545.5 632.3L1546.3 562.1L1547.6 534.0Z" fill="#ffff00" stroke="#ffff00" stroke-width="0.6" stroke-linejoin="round"/>
<path d="M1554.1 541.5L1567.2 552.7L1580.4 571.5L1595.3 595.8L1602.8 610.8L1604.7 629.5L1552.3 629.5L1552.3 543.4Z" fill="#ffbf00" stroke="#ffbf00" stroke-width="0.6" stroke-linejoin="round"/>
<path d="M1584.1 629.5L1595.3 618.3L1603.8 620.1L1604.7 629.5Z" fill="#ff8000" stroke="#ff8000" stroke-width="0.6" stroke-linejoin="round"/>
<path d="M1723.6 532.1L1732.0 552.7L1741.4 577.1L1750.7 599.5L1763.8 629.5L1679.6 629.5L1692.7 603.3L1703.9 580.8L1713.3 552.7Z" fill="#ffff00" stroke="#ffff00" stroke-width="0.6" stroke-linejoin="round"/>
</g>
<g clip-path="url(#c14)">
<path d="M1479.5 621.5L1850.8 621.5L1850.8 919.9L1479.5 919.9Z" fill="#9fff10" stroke="#9fff10" stroke-width="0.6" stroke-linejoin="round"/>
<path d="M1479.5 621.5L1536.8 621.5L1533.3 642.3L1528.1 658.0L1505.6 644.1L1483.0 641.5L1479.5 641.5Z" fill="#00ff70" stroke="#00ff70" stroke-width="0.6" stroke-linejoin="round"/>
<path d="M1479.5 812.4L1483.0 814.1L1493.4 867.9L1505.6 887.8L1552.4 885.2L1587.1 876.5L1604.4 869.6L1625.3 865.3L1673.8 864.4L1699.8 871.3L1722.4 879.1L1748.4 880.0L1760.6 864.4L1769.2 841.8L1781.4 815.8L1793.5 791.5L1807.4 781.1L1821.3 773.3L1845.6 795.9L1850.8 795.9L1850.8 919.9L1479.5 919.9Z" fill="#00ff70" stroke="#00ff70" stroke-width="0.6" stroke-linejoin="round"/>
<path d="M1515.3 621.5L1521.5 626.7L1527.8 635.4L1533.3 626.7L1535.0 621.5Z" fill="#00ffbf" stroke="#00ffbf" stroke-width="0.6" stroke-linejoin="round"/>
<path d="M1524.6 621.5L1527.8 631.9L1531.6 621.5Z" fill="#00ffff" stroke="#00ffff" stroke-width="0.6" stroke-linejoin="round"/>
<path d="M1845.6 816.7L1821.3 829.7L1805.7 841.8L1798.7 859.2L1791.8 885.2L1777.9 902.6L1743.2 911.2L1708.5 909.5L1665.2 919.9L1850.8 919.9L1850.8 815.8Z" fill="#00ffbf" stroke="#00ffbf" stroke-width="0.6" stroke-linejoin="round"/>
<path d="M1691.2 919.9L1743.2 914.4L1795.3 910.4L1821.3 902.6L1821.3 919.9Z" fill="#00ffff" stroke="#00ffff" stroke-width="0.6" stroke-linejoin="round"/>
<path d="M1543.7 621.5L1542.5 644.6L1536.3 670.6L1529.8 691.6L1526.4 693.5L1502.1 694.4L1500.3 711.7L1505.6 737.8L1517.7 772.5L1528.1 795.0L1569.7 801.9L1595.8 805.4L1621.8 815.8L1656.5 829.7L1699.8 843.6L1725.9 841.8L1732.8 824.5L1743.2 812.4L1764.0 789.8L1777.9 772.5L1786.6 746.4L1788.3 729.1L1777.9 694.4L1769.2 659.7L1760.6 621.5Z" fill="#ffff00" stroke="#ffff00" stroke-width="0.6" stroke-linejoin="round"/>
<path d="M1625.3 621.5L1651.3 649.3L1675.6 621.5Z" fill="#9fff10" stroke="#9fff10" stroke-width="0.6" stroke-linejoin="round"/>
<path d="M1552.4 621.5L1552.4 677.0L1557.6 703.1L1569.7 729.1L1587.1 749.9L1604.4 767.3L1630.5 782.9L1656.5 795.0L1673.8 800.2L1699.8 796.7L1725.9 781.1L1746.7 767.3L1751.9 746.4L1748.4 711.7L1734.5 677.0L1722.4 656.2L1708.5 671.8L1691.2 680.5L1673.8 683.1L1649.5 677.0L1639.1 659.7L1621.8 633.7L1618.3 621.5Z" fill="#ffbf00" stroke="#ffbf00" stroke-width="0.6" stroke-linejoin="round"/>
<path d="M1587.1 621.5L1604.4 621.5L1611.4 651.0L1627.0 668.4L1632.2 685.7L1632.2 697.9L1626.1 711.7L1614.8 694.4L1604.4 677.0L1595.8 656.2L1590.6 638.9Z" fill="#ff8000" stroke="#ff8000" stroke-width="0.6" stroke-linejoin="round"/>
<path d="M1637.4 720.4L1654.7 715.2L1654.7 723.9L1649.5 730.8Z" fill="#ff8000" stroke="#ff8000" stroke-width="0.6" stroke-linejoin="round"/>
<path d="M1797.0 621.5L1797.0 697.9L1819.5 718.7L1819.5 773.3L1845.6 795.9L1850.8 795.9L1850.8 621.5Z" fill="#ffffff" stroke="#ffffff" stroke-width="0.6" stroke-linejoin="round"/>
<path d="M1850.8 815.8L1845.6 815.8L1821.3 840.1L1821.3 919.9L1850.8 919.9Z" fill="#ffffff" stroke="#ffffff" stroke-width="0.6" stroke-linejoin="round"/>
</g>
<g clip-path="url(#c15)">
<path d="M1479.5 913.5L1850.8 913.5L1850.8 1211.9L1479.5 1211.9Z" fill="#00ffff" stroke="#00ffff" stroke-width="0.6" stroke-linejoin="round"/>
<path d="M1479.5 913.5L1821.3 913.5L1817.8 927.4L1795.3 950.0L1760.6 956.9L1708.5 963.8L1673.8 977.7L1639.1 998.5L1604.4 1019.4L1569.7 1041.9L1535.0 1064.5L1500.3 1090.5L1479.5 1106.1Z" fill="#00ffbf" stroke="#00ffbf" stroke-width="0.6" stroke-linejoin="round"/>
<path d="M1479.5 913.5L1661.7 913.5L1630.5 927.4L1604.4 943.0L1569.7 962.1L1535.0 972.5L1500.3 977.7L1479.5 978.6Z" fill="#00ff70" stroke="#00ff70" stroke-width="0.6" stroke-linejoin="round"/>
<path d="M1479.5 1140.8L1500.3 1159.9L1535.0 1172.0L1566.3 1180.7L1543.7 1194.6L1524.6 1211.9L1479.5 1211.9Z" fill="#00ffbf" stroke="#00ffbf" stroke-width="0.6" stroke-linejoin="round"/>
<path d="M1823.0 995.1L1795.3 1000.3L1760.6 1008.9L1725.9 1024.6L1691.2 1045.4L1665.2 1067.9L1642.6 1090.5L1627.0 1109.6L1621.8 1132.1L1639.1 1144.3L1658.2 1157.3L1647.8 1177.2L1639.1 1187.6L1613.1 1194.6L1587.1 1211.9L1823.0 1211.9Z" fill="#00bfff" stroke="#00bfff" stroke-width="0.6" stroke-linejoin="round"/>
<path d="M1797.0 1063.6L1777.9 1073.1L1760.6 1087.0L1739.7 1107.8L1760.6 1132.1L1743.2 1151.2L1725.9 1168.5L1705.1 1182.4L1712.0 1198.0L1715.5 1211.9L1798.7 1211.9L1798.7 1083.5Z" fill="#0080ff" stroke="#0080ff" stroke-width="0.6" stroke-linejoin="round"/>
<path d="M1821.3 913.5L1821.3 1083.5L1797.0 1107.8L1797.0 1182.4L1771.0 1208.4L1771.0 1211.9L1850.8 1211.9L1850.8 913.5Z" fill="#ffffff" stroke="#ffffff" stroke-width="0.6" stroke-linejoin="round"/>
</g>
<g clip-path="url(#c16)">
<path d="M1479.5 1204.5L1771.8 1204.5L1771.8 1277.4L1748.4 1301.7L1748.4 1398.8L1724.1 1423.1L1724.1 1473.4L1601.0 1473.4L1576.7 1449.1L1479.5 1449.1Z" fill="#0080ff" stroke="#0080ff" stroke-width="0.6" stroke-linejoin="round"/>
<path d="M1479.5 1204.5L1717.2 1204.5L1715.5 1225.3L1708.5 1242.7L1691.2 1260.0L1656.5 1273.9L1621.8 1284.3L1587.1 1296.5L1552.4 1305.1L1517.7 1313.8L1479.5 1319.0Z" fill="#00bfff" stroke="#00bfff" stroke-width="0.6" stroke-linejoin="round"/>
<path d="M1479.5 1204.5L1594.0 1204.5L1595.8 1216.7L1614.8 1225.3L1618.3 1242.7L1614.8 1260.0L1604.4 1277.4L1587.1 1284.3L1552.4 1289.5L1517.7 1301.7L1479.5 1305.1Z" fill="#00ffff" stroke="#00ffff" stroke-width="0.6" stroke-linejoin="round"/>
<path d="M1522.9 1229.7L1552.4 1223.6L1569.7 1229.7L1552.4 1236.6L1535.0 1235.8Z" fill="#00bfff" stroke="#00bfff" stroke-width="0.6" stroke-linejoin="round"/>
<path d="M1479.5 1204.5L1526.4 1204.5L1500.3 1214.9L1479.5 1218.4Z" fill="#00ffbf" stroke="#00ffbf" stroke-width="0.6" stroke-linejoin="round"/>
<path d="M1691.2 1277.4L1725.9 1267.0L1746.7 1267.0L1750.2 1277.4L1743.2 1286.1L1708.5 1287.8Z" fill="#0040ff" stroke="#0040ff" stroke-width="0.6" stroke-linejoin="round"/>
<path d="M1621.8 1302.5L1656.5 1293.0L1679.0 1291.3L1686.0 1302.5L1673.8 1312.1L1647.8 1310.4Z" fill="#0040ff" stroke="#0040ff" stroke-width="0.6" stroke-linejoin="round"/>
<path d="M1542.0 1398.8L1552.4 1384.9L1587.1 1381.5L1613.1 1386.7L1625.3 1398.8L1614.8 1411.0L1587.1 1417.9L1561.1 1414.4Z" fill="#0040ff" stroke="#0040ff" stroke-width="0.6" stroke-linejoin="round"/>
<path d="M1495.1 1447.4L1503.8 1440.5L1509.0 1447.4Z" fill="#0040ff" stroke="#0040ff" stroke-width="0.6" stroke-linejoin="round"/>
<path d="M1710.3 1352.0L1748.4 1332.0L1748.4 1398.8L1729.3 1417.9L1706.8 1400.6L1722.4 1390.2L1734.5 1374.5L1725.9 1360.7Z" fill="#00bfff" stroke="#00bfff" stroke-width="0.6" stroke-linejoin="round"/>
<path d="M1479.5 1388.4L1493.4 1398.8L1479.5 1412.7Z" fill="#00bfff" stroke="#00bfff" stroke-width="0.6" stroke-linejoin="round"/>
<path d="M1524.6 1449.1L1531.6 1437.0L1552.4 1430.9L1580.1 1431.8L1601.0 1447.4L1616.6 1463.0L1620.0 1473.4L1601.0 1473.4L1576.7 1449.1Z" fill="#00bfff" stroke="#00bfff" stroke-width="0.6" stroke-linejoin="round"/>
<path d="M1535.0 1449.1L1542.0 1440.5L1555.9 1436.1L1576.7 1437.9L1594.0 1452.6L1607.9 1466.5L1611.4 1473.4L1601.0 1473.4L1576.7 1449.1Z" fill="#00ffff" stroke="#00ffff" stroke-width="0.6" stroke-linejoin="round"/>
<path d="M1545.5 1449.1L1555.9 1442.2L1573.2 1443.1L1587.1 1456.1L1602.7 1473.4L1601.0 1473.4L1576.7 1449.1Z" fill="#00ffbf" stroke="#00ffbf" stroke-width="0.6" stroke-linejoin="round"/>
<path d="M1712.0 1473.4L1724.1 1463.0L1724.1 1473.4Z" fill="#00bfff" stroke="#00bfff" stroke-width="0.6" stroke-linejoin="round"/>
</g>
</g>
<path d="M630.30 138.2V1596.9M386.8 1353.78H1847.8M873.80 138.2V1596.9M386.8 1110.67H1847.8M1117.30 138.2V1596.9M386.8 867.55H1847.8M1360.80 138.2V1596.9M386.8 624.43H1847.8M1604.30 138.2V1596.9M386.8 381.32H1847.8" stroke="#262626" stroke-opacity="0.15" stroke-width="2.1" fill="none"/>
<g clip-path="url(#ax)" fill="none" stroke="#000" stroke-width="2.1" stroke-dasharray="26.2 19">
<path d="M1358.70 867.55A242.45 242.62 0 1 0 873.80 867.55A242.45 242.62 0 1 0 1358.70 867.55"/>
<path d="M1600.70 867.55A485.20 485.73 0 1 0 630.30 867.55A485.20 485.73 0 1 0 1600.70 867.55"/>
<path d="M1842.70 867.55A727.95 728.85 0 1 0 386.80 867.55A727.95 728.85 0 1 0 1842.70 867.55"/>
<path d="M1847.80 231.60A970.70 971.47 0 0 0 1755.21 138.20"/>
<path d="M472.79 138.20A970.70 971.47 0 0 0 386.80 224.05"/>
<path d="M386.80 1511.05A970.70 971.47 0 0 0 472.79 1596.90"/>
<path d="M1755.21 1596.90A970.70 971.47 0 0 0 1847.80 1503.50"/>
</g>
<path d="M474.1 349.4l24 24m0 -24l-24 24M498.8 349.0l24 24m0 -24l-24 24M523.5 348.6l24 24m0 -24l-24 24M548.2 348.2l24 24m0 -24l-24 24M572.8 347.9l24 24m0 -24l-24 24M597.5 347.5l24 24m0 -24l-24 24M622.2 347.1l24 24m0 -24l-24 24M646.9 346.7l24 24m0 -24l-24 24M796.5 344.0l24 24m0 -24l-24 24M943.0 341.0l24 24m0 -24l-24 24M1094.6 338.8l24 24m0 -24l-24 24M1120.8 338.8l24 24m0 -24l-24 24M1159.4 338.8l24 24m0 -24l-24 24M1185.6 338.8l24 24m0 -24l-24 24M1210.4 338.8l24 24m0 -24l-24 24M1258.7 338.8l24 24m0 -24l-24 24M1312.4 336.0l24 24m0 -24l-24 24M1337.2 336.0l24 24m0 -24l-24 24M1362.0 336.0l24 24m0 -24l-24 24M1388.2 336.0l24 24m0 -24l-24 24M1413.0 336.0l24 24m0 -24l-24 24M1437.8 336.0l24 24m0 -24l-24 24M1462.6 336.0l24 24m0 -24l-24 24M1512.6 332.9l24 24m0 -24l-24 24M1537.0 331.6l24 24m0 -24l-24 24M1561.4 330.6l24 24m0 -24l-24 24M1585.7 329.5l24 24m0 -24l-24 24M1597.7 319.8l24 24m0 -24l-24 24M1608.1 326.6l24 24m0 -24l-24 24M1633.8 324.0l24 24m0 -24l-24 24M1657.3 321.4l24 24m0 -24l-24 24M1670.9 318.7l24 24m0 -24l-24 24M1487.8 523.4l24 24m0 -24l-24 24M1512.7 513.3l24 24m0 -24l-24 24M1528.4 505.9l24 24m0 -24l-24 24M1545.9 493.0l24 24m0 -24l-24 24M1563.4 478.3l24 24m0 -24l-24 24M1594.7 450.6l24 24m0 -24l-24 24M1611.3 436.8l24 24m0 -24l-24 24M1628.8 423.0l24 24m0 -24l-24 24M1650.9 403.1l24 24m0 -24l-24 24M1662.9 391.3l24 24m0 -24l-24 24M1696.1 366.7l24 24m0 -24l-24 24M1709.9 352.0l24 24m0 -24l-24 24M486.1 437.3l24 24m0 -24l-24 24M508.6 450.0l24 24m0 -24l-24 24M525.3 461.8l24 24m0 -24l-24 24M544.8 475.5l24 24m0 -24l-24 24M562.5 490.2l24 24m0 -24l-24 24M576.2 506.8l24 24m0 -24l-24 24M592.8 520.5l24 24m0 -24l-24 24M610.5 538.1l24 24m0 -24l-24 24M646.7 574.4l24 24m0 -24l-24 24M660.4 589.1l24 24m0 -24l-24 24M708.4 633.1l24 24m0 -24l-24 24M726.0 646.8l24 24m0 -24l-24 24M739.7 661.5l24 24m0 -24l-24 24M790.9 712.0l24 24m0 -24l-24 24M807.9 726.5l24 24m0 -24l-24 24M821.9 742.7l24 24m0 -24l-24 24M839.1 759.0l24 24m0 -24l-24 24M855.9 774.3l24 24m0 -24l-24 24M869.8 790.6l24 24m0 -24l-24 24M389.8 858.4l24 24m0 -24l-24 24M413.2 858.4l24 24m0 -24l-24 24M503.4 855.8l24 24m0 -24l-24 24M686.4 853.2l24 24m0 -24l-24 24M709.0 853.2l24 24m0 -24l-24 24M733.3 853.2l24 24m0 -24l-24 24M756.9 852.9l24 24m0 -24l-24 24M778.6 852.9l24 24m0 -24l-24 24M788.5 852.9l24 24m0 -24l-24 24M800.3 852.9l24 24m0 -24l-24 24M823.8 852.9l24 24m0 -24l-24 24M847.2 852.9l24 24m0 -24l-24 24M870.7 852.9l24 24m0 -24l-24 24M916.8 819.5l24 24m0 -24l-24 24M938.4 819.5l24 24m0 -24l-24 24M959.2 822.2l24 24m0 -24l-24 24M980.9 825.8l24 24m0 -24l-24 24M1002.6 830.3l24 24m0 -24l-24 24M1024.2 835.7l24 24m0 -24l-24 24M1046.8 839.3l24 24m0 -24l-24 24M1071.2 843.9l24 24m0 -24l-24 24M955.6 852.9l24 24m0 -24l-24 24M980.9 853.8l24 24m0 -24l-24 24M1098.3 858.3l24 24m0 -24l-24 24M1205.5 785.4l24 24m0 -24l-24 24M1253.3 760.1l24 24m0 -24l-24 24M1320.5 751.1l24 24m0 -24l-24 24M1343.4 750.2l24 24m0 -24l-24 24M1366.0 750.2l24 24m0 -24l-24 24M1388.6 749.3l24 24m0 -24l-24 24M1411.7 748.9l24 24m0 -24l-24 24M1459.0 746.1l24 24m0 -24l-24 24M1526.9 740.3l24 24m0 -24l-24 24M1656.5 734.3l24 24m0 -24l-24 24M1685.2 732.6l24 24m0 -24l-24 24M1711.2 729.1l24 24m0 -24l-24 24M1393.9 571.7l24 24m0 -24l-24 24M1281.1 646.7l24 24m0 -24l-24 24M1272.4 653.7l24 24m0 -24l-24 24M1188.3 948.3l24 24m0 -24l-24 24M405.4 959.3l24 24m0 -24l-24 24M424.5 969.8l24 24m0 -24l-24 24M443.6 985.4l24 24m0 -24l-24 24M462.6 999.2l24 24m0 -24l-24 24M483.5 1014.9l24 24m0 -24l-24 24M500.8 1030.5l24 24m0 -24l-24 24M516.4 1044.4l24 24m0 -24l-24 24M533.8 1060.0l24 24m0 -24l-24 24M551.1 1075.6l24 24m0 -24l-24 24M570.2 1087.7l24 24m0 -24l-24 24M612.9 1122.4l24 24m0 -24l-24 24M993.5 976.7l24 24m0 -24l-24 24M977.9 990.6l24 24m0 -24l-24 24M962.3 1004.5l24 24m0 -24l-24 24M931.1 1033.9l24 24m0 -24l-24 24M880.8 1077.3l24 24m0 -24l-24 24M866.9 1089.5l24 24m0 -24l-24 24M849.5 1105.1l24 24m0 -24l-24 24M833.9 1120.7l24 24m0 -24l-24 24M818.3 1136.3l24 24m0 -24l-24 24M719.4 1249.1l24 24m0 -24l-24 24M703.8 1262.9l24 24m0 -24l-24 24M689.9 1280.3l24 24m0 -24l-24 24M686.5 1302.9l24 24m0 -24l-24 24M756.5 1249.1l24 24m0 -24l-24 24M1380.0 1145.6l24 24m0 -24l-24 24M1395.4 1158.3l24 24m0 -24l-24 24M1410.9 1175.7l24 24m0 -24l-24 24M1426.3 1191.1l24 24m0 -24l-24 24M1441.8 1206.6l24 24m0 -24l-24 24M1453.3 1222.0l24 24m0 -24l-24 24M1468.8 1237.5l24 24m0 -24l-24 24M1486.1 1256.8l24 24m0 -24l-24 24M1499.7 1272.2l24 24m0 -24l-24 24M1513.2 1287.6l24 24m0 -24l-24 24M1530.5 1301.2l24 24m0 -24l-24 24M1557.6 1334.0l24 24m0 -24l-24 24M1574.9 1349.4l24 24m0 -24l-24 24M1588.5 1364.8l24 24m0 -24l-24 24M1605.8 1384.1l24 24m0 -24l-24 24M1619.3 1399.6l24 24m0 -24l-24 24M1632.8 1415.0l24 24m0 -24l-24 24M1650.2 1430.5l24 24m0 -24l-24 24M1665.7 1447.8l24 24m0 -24l-24 24M1681.1 1463.3l24 24m0 -24l-24 24M1694.6 1480.7l24 24m0 -24l-24 24M1831.2 801.8l24 24m0 -24l-24 24M1831.2 825.2l24 24m0 -24l-24 24M1831.2 848.2l24 24m0 -24l-24 24M1831.2 870.7l24 24m0 -24l-24 24M1817.0 1003.1l24 24m0 -24l-24 24M1817.0 1026.7l24 24m0 -24l-24 24M1815.2 1050.1l24 24m0 -24l-24 24M1791.8 1088.4l24 24m0 -24l-24 24M1778.0 1128.6l24 24m0 -24l-24 24M1775.0 1155.1l24 24m0 -24l-24 24M1772.3 1170.1l24 24m0 -24l-24 24M1770.0 1187.4l24 24m0 -24l-24 24M1766.5 1208.1l24 24m0 -24l-24 24M1763.1 1227.7l24 24m0 -24l-24 24M1758.9 1248.4l24 24m0 -24l-24 24M1754.3 1268.0l24 24m0 -24l-24 24M1744.6 1304.8l24 24m0 -24l-24 24M1741.2 1318.6l24 24m0 -24l-24 24M1736.6 1334.8l24 24m0 -24l-24 24M1732.0 1349.7l24 24m0 -24l-24 24M1728.5 1361.2l24 24m0 -24l-24 24M1723.9 1375.1l24 24m0 -24l-24 24M1719.8 1390.0l24 24m0 -24l-24 24M1716.3 1411.9l24 24m0 -24l-24 24M1719.3 1448.8l24 24m0 -24l-24 24M1717.0 1472.9l24 24m0 -24l-24 24M1704.3 1478.7l24 24m0 -24l-24 24" stroke="#000" stroke-width="2.0" fill="none"/>
<path d="M630.30 138.2v14.6M630.30 1596.9v-14.6M386.8 1353.78h14.6M1847.8 1353.78h-14.6M873.80 138.2v14.6M873.80 1596.9v-14.6M386.8 1110.67h14.6M1847.8 1110.67h-14.6M1117.30 138.2v14.6M1117.30 1596.9v-14.6M386.8 867.55h14.6M1847.8 867.55h-14.6M1360.80 138.2v14.6M1360.80 1596.9v-14.6M386.8 624.43h14.6M1847.8 624.43h-14.6M1604.30 138.2v14.6M1604.30 1596.9v-14.6M386.8 381.32h14.6M1847.8 381.32h-14.6" stroke="#262626" stroke-width="2.1" fill="none"/>
<rect x="388.25" y="139.64999999999998" width="1458.1" height="1455.8" fill="none" stroke="#262626" stroke-width="2.9"/>
<g font-size="83.3" fill="#262626">
<text transform="translate(384.8 1706.2) scale(0.976 1)" text-anchor="middle">-150</text>
<text transform="translate(628.3 1706.2) scale(0.976 1)" text-anchor="middle">-100</text>
<text transform="translate(871.8 1706.2) scale(0.976 1)" text-anchor="middle">-50</text>
<text transform="translate(1115.3 1706.2) scale(0.976 1)" text-anchor="middle">0</text>
<text transform="translate(1358.8 1706.2) scale(0.976 1)" text-anchor="middle">50</text>
<text transform="translate(1602.3 1706.2) scale(0.976 1)" text-anchor="middle">100</text>
<text transform="translate(1845.8 1706.2) scale(0.976 1)" text-anchor="middle">150</text>
<text transform="translate(356.2 1628.9) scale(0.976 1)" text-anchor="end">-150</text>
<text transform="translate(356.2 1385.8) scale(0.976 1)" text-anchor="end">-100</text>
<text transform="translate(356.2 1142.7) scale(0.976 1)" text-anchor="end">-50</text>
<text transform="translate(356.2 899.6) scale(0.976 1)" text-anchor="end">0</text>
<text transform="translate(356.2 656.4) scale(0.976 1)" text-anchor="end">50</text>
<text transform="translate(356.2 413.3) scale(0.976 1)" text-anchor="end">100</text>
<text transform="translate(356.2 170.2) scale(0.976 1)" text-anchor="end">150</text>
</g>
<text x="1117.6" y="1825.3" font-size="90.4" fill="#262626" text-anchor="middle">distance [km]</text>
<text transform="translate(153.6 865.8) rotate(-90)" font-size="90.4" fill="#262626" text-anchor="middle">distance [km]</text>
<text x="534" y="113.6" font-size="70.6" font-weight="bold" fill="#000" xml:space="preserve">Wind speed [m s<tspan dy="-34.7" font-size="54">-1</tspan><tspan dy="34.7">], z=25 m,  DWL</tspan></text>
<rect x="1973.5" y="140.1" width="118.2" height="1458.4" fill="#0000c4"/>
<rect x="1973.5" y="1500.10" width="118.2" height="97.80" fill="#0000c4"/>
<rect x="1973.5" y="1402.90" width="118.2" height="97.80" fill="#0000ff"/>
<rect x="1973.5" y="1305.70" width="118.2" height="97.80" fill="#0040ff"/>
<rect x="1973.5" y="1208.50" width="118.2" height="97.80" fill="#0080ff"/>
<rect x="1973.5" y="1111.30" width="118.2" height="97.80" fill="#00bfff"/>
<rect x="1973.5" y="1014.10" width="118.2" height="97.80" fill="#00ffff"/>
<rect x="1973.5" y="916.90" width="118.2" height="97.80" fill="#00ffbf"/>
<rect x="1973.5" y="819.70" width="118.2" height="97.80" fill="#00ff70"/>
<rect x="1973.5" y="722.50" width="118.2" height="97.80" fill="#9fff10"/>
<rect x="1973.5" y="625.30" width="118.2" height="97.80" fill="#ffff00"/>
<rect x="1973.5" y="528.10" width="118.2" height="97.80" fill="#ffbf00"/>
<rect x="1973.5" y="430.90" width="118.2" height="97.80" fill="#ff8000"/>
<rect x="1973.5" y="333.70" width="118.2" height="97.80" fill="#ff4000"/>
<rect x="1973.5" y="236.50" width="118.2" height="97.80" fill="#ff0000"/>
<rect x="1973.5" y="139.10" width="118.2" height="98.00" fill="#df0000"/>
<path d="M2091.7 1354.03h-14.6M2091.7 1111.65h-14.6M2091.7 869.28h-14.6M2091.7 626.90h-14.6M2091.7 384.53h-14.6" stroke="#262626" stroke-width="2.1" fill="none"/>
<rect x="1973.5" y="140.1" width="118.2" height="1458.4" fill="none" stroke="#262626" stroke-width="2.8"/>
<g font-size="75" fill="#262626">
<text x="2115" y="1627.7">0</text>
<text x="2115" y="1383.3">5</text>
<text x="2115" y="1140.9">10</text>
<text x="2115" y="898.5">15</text>
<text x="2115" y="656.1">20</text>
<text x="2115" y="413.7">25</text>
<text x="2115" y="169.1">30</text>
</g>
</svg>
</body></html>
